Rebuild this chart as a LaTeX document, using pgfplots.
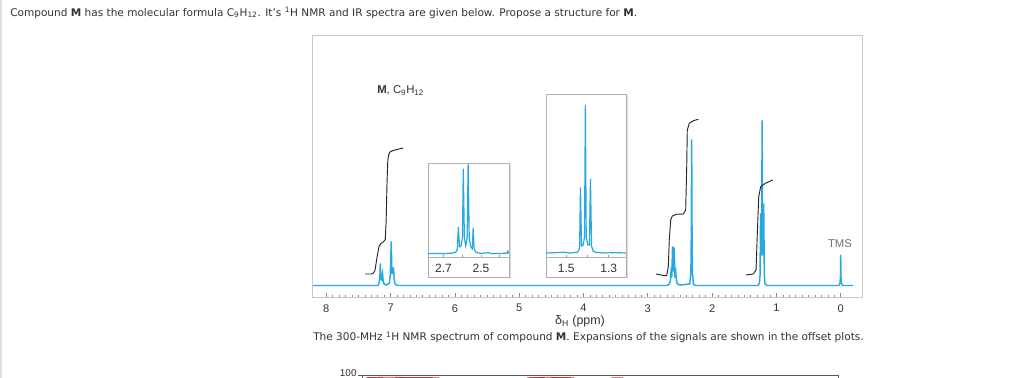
\documentclass[border=0pt]{standalone}
\usepackage{pgfplots}
\pgfplotsset{compat=1.18}
\usepackage{fontspec}
\setmainfont{DejaVu Sans}
\newfontfamily\figfont{Liberation Sans}
\definecolor{nmrblue}{RGB}{40,168,224}
\definecolor{txt}{RGB}{51,51,51}
\definecolor{framegray}{RGB}{200,200,200}
\definecolor{irred}{RGB}{225,45,45}
\begin{document}
\begin{tikzpicture}[x=0.75pt,y=0.75pt]
\useasboundingbox (0,0) rectangle (1024,378);
\clip (0,0) rectangle (1024,378);
\fill[white] (0,0) rectangle (1024,378);
\fill[black!12] (0,0) rectangle (1.5,378);
\coordinate (cmain) at (587.5,211.5);
\coordinate (cin1) at (468.5,168);
\coordinate (cin2) at (586,202.5);
\coordinate (cir) at (600,-97.5);
% page text
\node[anchor=west, inner sep=0, text=txt, font=\fontsize{7.9}{9}\selectfont] at (10,365.3)
  {Compound \textbf{M} has the molecular formula C\textsubscript{9}H\textsubscript{12}. It's \textsuperscript{1}H NMR and IR spectra are given below. Propose a structure for \textbf{M}.};
\node[anchor=west, inner sep=0, text=txt, font=\fontsize{7.9}{9}\selectfont] at (313,40.5)
  {The 300-MHz \textsuperscript{1}H NMR spectrum of compound \textbf{M}. Expansions of the signals are shown in the offset plots.};
% main spectrum
\begin{axis}[
  at={(cmain)}, anchor=center, scale only axis,
  width=411.75pt, height=195.75pt,
  x dir=reverse, xmin=-0.331, xmax=8.207, ymin=-11.5, ymax=249.5,
  axis line style={draw=framegray, line width=0.75pt},
  xtick={0,1,...,8}, minor xtick={0.1,0.2,...,7.95},
  ytick=\empty, xtick pos=left, tick align=inside,
  major tick length=3.2pt, minor tick length=1.6pt,
  tick style={draw=black!45, line width=0.5pt},
  xticklabel style={font=\figfont\fontsize{8.3}{9}\selectfont, text=txt, yshift=-2pt},
  /pgf/number format/assume math mode=true,
  clip=false,
]
\addplot[nmrblue, line width=1.1pt] coordinates {
(8.207,0) (7.20,0) (7.185,1.5) (7.168,6) (7.16,22) (7.152,7) (7.14,6) (7.125,12) (7.115,4)
(7.10,1.5) (7.07,0.5) (7.02,2) (7.005,10) (6.99,44) (6.98,12) (6.965,12) (6.955,18) (6.945,6)
(6.93,1.5) (6.90,0)
(2.70,0) (2.665,1.5) (2.648,5) (2.64,13) (2.628,8) (2.615,39) (2.603,14) (2.59,38) (2.578,8)
(2.565,13) (2.555,5) (2.54,1.5) (2.50,0.5) (2.35,1.5) (2.33,12) (2.324,50) (2.318,146)
(2.312,50) (2.306,12) (2.29,1.5) (2.26,0)
(1.29,0) (1.265,2) (1.255,10) (1.246,72) (1.236,30) (1.229,55) (1.222,165) (1.215,55)
(1.208,30) (1.198,82) (1.188,10) (1.178,2) (1.15,0)
(0.03,0) (0.012,2) (0.004,8) (0,30.5) (-0.004,8) (-0.012,2) (-0.03,0) (-0.19,0)
};
% integrals
\addplot[black!85, line width=0.7pt] coordinates {
(7.398,11.5) (7.305,11.5) (7.274,12) (7.243,15) (7.212,28) (7.180,39) (7.149,42) (7.114,43.5)
(7.083,46) (7.069,65) (7.057,100) (7.044,125) (7.029,131) (7.010,133.5) (6.963,135) (6.901,136) (6.803,137.5)
};
\addplot[black!85, line width=0.7pt] coordinates {
(2.872,11.5) (2.733,9.8) (2.706,10) (2.681,19) (2.666,45.5) (2.644,65.5) (2.619,69.5) (2.551,71.2)
(2.448,71.5) (2.411,75.5) (2.395,118.8) (2.386,155.5) (2.355,162.2) (2.292,164.8) (2.215,166.2)
};
\addplot[black!85, line width=0.7pt] coordinates {
(1.473,10.5) (1.359,11.5) (1.317,15.5) (1.297,52) (1.275,88.8) (1.244,98.8) (1.177,102) (1.058,105.5)
};
\end{axis}
% labels in figure
\node[anchor=west, inner sep=0, text=txt, font=\figfont\fontsize{8.5}{10}\selectfont] at (377,287.3)
  {\textbf{M}, C\textsubscript{9}H\textsubscript{12}};
\node[inner sep=0, text=black!55, font=\figfont\fontsize{8.5}{10}\selectfont] at (840,134) {TMS};
\node[inner sep=0, text=txt, font=\figfont\fontsize{9.3}{11}\selectfont] at (580,57) {δ\textsubscript{H} (ppm)};
% inset frames
\fill[black!14] (429.5,99.5) rectangle (510.5,213.5);
\filldraw[fill=white, draw=black!32, line width=0.6pt] (428,101) rectangle (509,215);
\fill[black!14] (547.5,99.5) rectangle (627.5,282.5);
\filldraw[fill=white, draw=black!32, line width=0.6pt] (546,101) rectangle (626,284);
% inset 1
\begin{axis}[
  at={(cin1)}, anchor=center, scale only axis,
  width=60.75pt, height=70.5pt,
  x dir=reverse, xmin=2.351, xmax=2.783, ymin=-3.3, ymax=90.7,
  axis line style={draw=black!30, line width=0.6pt},
  xtick={2.4,2.5,2.6,2.7}, xticklabels={,2.5,,2.7},
  ytick=\empty, xtick pos=left, tick align=inside, major tick length=1.5pt,
  tick style={draw=black!40, line width=0.5pt},
  xticklabel style={font=\figfont\fontsize{9}{10}\selectfont, text=txt, yshift=-1.6pt},
]
\addplot[nmrblue, line width=0.9pt] coordinates {
(2.783,0) (2.73,0.3) (2.70,0) (2.66,0.5) (2.635,1.5) (2.627,4) (2.621,26.7) (2.615,7) (2.607,8)
(2.599,16) (2.595,85) (2.589,16) (2.582,8) (2.574,16) (2.569,90) (2.563,15) (2.555,7) (2.547,5)
(2.542,25.7) (2.537,5) (2.53,2) (2.52,1) (2.50,0.3) (2.46,1.0) (2.44,0) (2.39,0.3) (2.36,0.5)
(2.357,2.5) (2.353,1) (2.351,0.5)
};
\end{axis}
% inset 2
\begin{axis}[
  at={(cin2)}, anchor=center, scale only axis,
  width=60pt, height=122.25pt,
  x dir=reverse, xmin=1.219, xmax=1.595, ymin=-4, ymax=159,
  axis line style={draw=black!30, line width=0.6pt},
  xtick={1.3,1.4,1.5}, xticklabels={1.3,,1.5},
  ytick=\empty, xtick pos=left, tick align=inside, major tick length=1.5pt,
  tick style={draw=black!40, line width=0.5pt},
  xticklabel style={font=\figfont\fontsize{9}{10}\selectfont, text=txt, yshift=-1.6pt},
]
\addplot[nmrblue, line width=0.9pt] coordinates {
(1.595,0) (1.55,0.3) (1.51,0.8) (1.49,0) (1.45,0.5) (1.442,2) (1.437,6) (1.433,65.7) (1.428,7)
(1.420,8) (1.414,16) (1.410,148) (1.406,16) (1.398,8) (1.391,8) (1.386,74) (1.381,7) (1.374,2)
(1.36,0.6) (1.32,0) (1.27,0.4) (1.219,0)
};
\end{axis}
% IR spectrum (top edge only visible)
\begin{axis}[
  at={(cir)}, anchor=center, scale only axis,
  width=357pt, height=150pt,
  x dir=reverse, xmin=400, xmax=4000, ymin=0, ymax=100,
  xtick=\empty, ytick={100}, yticklabels={100},
  tick align=outside, major tick length=3pt, ytick pos=left,
  axis line style={draw=black!65, line width=0.6pt},
  tick style={draw=black!65, line width=0.6pt},
  yticklabel style={font=\figfont\fontsize{7.5}{9}\selectfont, text=txt, yshift=2pt, xshift=2.5pt},
]
\addplot[irred, line width=0.6pt] coordinates {
(4000,96.5) (3960,99.0) (3800,99.1) (3600,99.0) (3420,98.9) (3350,95) (3100,85) (3000,40)
(2900,50) (2800,90) (2750,98.9) (2600,99.1) (2400,98.9) (2350,96) (2200,97) (2100,98.9)
(2030,98.9) (1990,96) (1900,94) (1800,93) (1600,80) (1500,50) (1400,70) (1200,80) (1000,75)
(820,30) (600,70) (400,80)
};
\end{axis}
\end{tikzpicture}
\end{document}
